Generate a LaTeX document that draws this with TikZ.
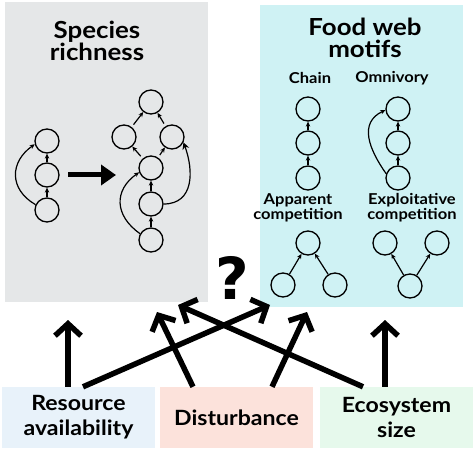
\documentclass[tikz,border=0pt]{standalone}
\usepackage{fontspec}
\setmainfont{Lato}[FakeStretch=1.1]
\newfontfamily\qfont{DejaVu Sans}
\usetikzlibrary{arrows.meta,calc}
\definecolor{panelgray}{RGB}{229,231,232}
\definecolor{panelcyan}{RGB}{207,242,244}
\definecolor{resblue}{RGB}{232,242,250}
\definecolor{distpink}{RGB}{252,226,219}
\definecolor{ecogreen}{RGB}{230,249,236}
\begin{document}
\begin{tikzpicture}[x=1pt,y=1pt,
  sp/.style={circle,draw,line width=1.3pt,minimum size=24pt,inner sep=0pt},
  sar/.style={line width=1.2pt,-{Stealth[length=5pt,width=4.5pt]}},
  bigar/.style={line width=5.5pt,-{Straight Barb[length=12pt,width=26pt]}},
  head/.style={font=\bfseries\fontsize{23.5}{22.5}\selectfont,align=center,inner sep=0pt},
  sub/.style={font=\bfseries\fontsize{15}{15}\selectfont,align=center,inner sep=0pt},
  box/.style={font=\bfseries\fontsize{21}{25}\selectfont,align=center,inner sep=0pt,minimum width=153pt,minimum height=61pt},
]
\useasboundingbox (0,0) rectangle (474,448);
% panels
\fill[panelgray] (5,146) rectangle (208,446);
\fill[panelcyan] (260,141) rectangle (463,443);
% headings
\node[head] (hsr) at (97,407) {Species\\richness};
\node[head] (hfw) at (365,410) {Food web\\motifs};
% left chain
\node[sp] (l1) at (47,307) {};
\node[sp] (l2) at (47,273) {};
\node[sp] (l3) at (47,238) {};
\draw[sar] (l3) -- (l2);
\draw[sar] (l2) -- (l1);
\draw[sar] (l3.155) to[out=150,in=215,looseness=1.3] (l1.195);
% big arrow
\coordinate (ba1) at (68,273);
\coordinate (ba2) at (116,273);
\draw[line width=5pt,-{Triangle[length=15pt,width=20pt]}] (ba1) -- (ba2);
% right web
\node[sp] (rt) at (151,346) {};
\node[sp] (rml) at (124,311) {};
\node[sp] (rmr) at (172,311) {};
\node[sp] (rc) at (151,280) {};
\node[sp] (rl) at (151,244) {};
\node[sp] (rb) at (151,208) {};
\draw[sar,shorten <=3pt] (rml) -- (rt);
\draw[sar,shorten <=3pt] (rmr) -- (rt);
\draw[sar,shorten <=3pt] (rc) -- (rml);
\draw[sar,shorten <=3pt] (rc) -- (rmr);
\draw[sar] (rl) -- (rc);
\draw[sar] (rb) -- (rl);
\draw[sar] (rb.150) to[out=145,in=215,looseness=1.3] (rc.200);
\draw[line width=1.2pt,-{Stealth[length=7pt,width=7pt]}] (rl.east) to[out=0,in=290,looseness=1.2] (rmr.335);
% motif labels
\node[sub] (tch) at (310,370) {Chain};
\node[sub] (tom) at (392,370) {Omnivory};
\node[sub] (tap) at (298,240.5) {Apparent\\competition};
\node[sub] (tex) at (412,240.5) {Exploitative\\competition};
% chain
\node[sp] (c1) at (308,339) {};
\node[sp] (c2) at (308,305) {};
\node[sp] (c3) at (308,270) {};
\draw[sar] (c3) -- (c2);
\draw[sar] (c2) -- (c1);
% omnivory
\node[sp] (o1) at (398,339) {};
\node[sp] (o2) at (398,305) {};
\node[sp] (o3) at (398,270) {};
\draw[sar] (o3) -- (o2);
\draw[sar] (o2) -- (o1);
\draw[sar] (o3.160) to[out=125,in=205,looseness=1.2] (o1.185);
% apparent competition
\node[sp] (a1) at (308,205) {};
\node[sp] (a2) at (283,163) {};
\node[sp] (a3) at (335,163) {};
\draw[sar] (a2) -- (a1);
\draw[sar] (a3) -- (a1);
% exploitative competition
\node[sp] (e1) at (385,205) {};
\node[sp] (e2) at (437,205) {};
\node[sp] (e3) at (410,162) {};
\draw[sar] (e3) -- (e1);
\draw[sar] (e3) -- (e2);
% question mark
\node[font=\qfont\bfseries\fontsize{58}{58}\selectfont,inner sep=0pt] (q) at (232,170) {?};
% bottom boxes
\node[box,fill=resblue] (res) at (78.5,30.5) {Resource\\availability};
\node[box,fill=distpink] (dist) at (236.5,30.5) {Disturbance};
\node[box,fill=ecogreen] (eco) at (396.5,30.5) {Ecosystem\\size};
% driver arrows
\coordinate (tRV) at (68,128);
\coordinate (tRD) at (270,143);
\coordinate (tDL) at (157,136);
\coordinate (tDR) at (307,136);
\coordinate (tED) at (178,143);
\coordinate (tEV) at (385,128);
\draw[bigar] ([xshift=-10.5pt]res.north) -- (tRV);
\draw[bigar] ([xshift=4.5pt]res.north) -- (tRD);
\draw[bigar] ([xshift=-43.5pt]dist.north) -- (tDL);
\draw[bigar] ([xshift=35.5pt]dist.north) -- (tDR);
\draw[bigar] ([xshift=-33.5pt]eco.north) -- (tED);
\draw[bigar] ([xshift=-11.5pt]eco.north) -- (tEV);
\end{tikzpicture}
\end{document}
